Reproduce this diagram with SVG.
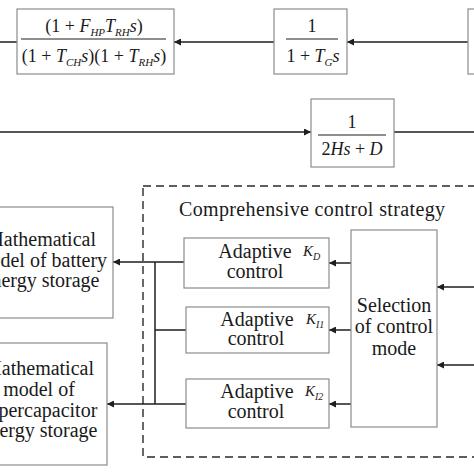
<svg xmlns="http://www.w3.org/2000/svg" width="474" height="474" viewBox="0 0 474 474">
<style>
.box{fill:#fff;stroke:#8c8c8c;stroke-width:1.2}
.ln{fill:none;stroke:#1e1e1e;stroke-width:1.5}
.dash{fill:none;stroke:#2a2a2a;stroke-width:1.4;stroke-dasharray:8 5}
text{font-family:'Liberation Serif','DejaVu Serif',serif;fill:#1a1a1a}
.t{font-size:20px;text-anchor:middle}
.m{font-size:18px;text-anchor:middle}
.i{font-style:italic}
.sub{font-style:italic;font-size:11px}
.k{font-size:15px;font-style:italic}
.fl{stroke:#1e1e1e;stroke-width:1.2}
</style>
<defs>
<marker id="ah" viewBox="0 0 10 10" refX="10" refY="5" markerWidth="7" markerHeight="7" markerUnits="userSpaceOnUse" orient="auto">
<path d="M0,0 L10,5 L0,10 z" fill="#1e1e1e"/>
</marker>
</defs>
<rect width="474" height="474" fill="#fff"/>

<g id="strategy-frame">
<rect class="dash" x="143" y="186" width="345" height="271"/>
<text class="t" x="179" y="216" style="text-anchor:start" textLength="266">Comprehensive control strategy</text>
</g>

<g id="connectors">
<line class="ln" x1="0" y1="42" x2="17" y2="42"/>
<line class="ln" x1="274" y1="42" x2="174" y2="42" marker-end="url(#ah)"/>
<line class="ln" x1="468" y1="42" x2="347" y2="42" marker-end="url(#ah)"/>
<line class="ln" x1="0" y1="132" x2="311" y2="132" marker-end="url(#ah)"/>
<line class="ln" x1="394" y1="132" x2="474" y2="132"/>
<line class="ln" x1="184" y1="262" x2="113" y2="262" marker-end="url(#ah)"/>
<line class="ln" x1="155" y1="262" x2="155" y2="404"/>
<line class="ln" x1="186" y1="330" x2="155" y2="330"/>
<line class="ln" x1="186" y1="404" x2="107" y2="404" marker-end="url(#ah)"/>
<line class="ln" x1="351" y1="263" x2="329" y2="263" marker-end="url(#ah)"/>
<line class="ln" x1="351" y1="330" x2="329" y2="330" marker-end="url(#ah)"/>
<line class="ln" x1="351" y1="404" x2="329" y2="404" marker-end="url(#ah)"/>
<line class="ln" x1="474" y1="287" x2="437" y2="287" marker-end="url(#ah)"/>
<line class="ln" x1="474" y1="365" x2="437" y2="365" marker-end="url(#ah)"/>
</g>

<g id="reheat-turbine">
<rect class="box" x="17" y="9" width="157" height="65"/>
<text class="m" x="94" y="32">(1 + <tspan class="i">F</tspan><tspan class="sub" dy="4">HP</tspan><tspan class="i" dy="-4">T</tspan><tspan class="sub" dy="4">RH</tspan><tspan class="i" dy="-4">s</tspan>)</text>
<line class="fl" x1="21" y1="39" x2="166" y2="39"/>
<text class="m" x="94" y="62">(1 + <tspan class="i">T</tspan><tspan class="sub" dy="4">CH</tspan><tspan class="i" dy="-4">s</tspan>)(1 + <tspan class="i">T</tspan><tspan class="sub" dy="4">RH</tspan><tspan class="i" dy="-4">s</tspan>)</text>
</g>

<g id="governor">
<rect class="box" x="274" y="9" width="73" height="65"/>
<text class="m" x="312" y="32">1</text>
<line class="fl" x1="286" y1="39" x2="338" y2="39"/>
<text class="m" x="313" y="62">1 + <tspan class="i">T</tspan><tspan class="sub" dy="4">G</tspan><tspan class="i" dy="-4">s</tspan></text>
</g>

<g id="right-block">
<rect class="box" x="468" y="9" width="20" height="65"/>
</g>

<g id="inertia">
<rect class="box" x="311" y="99" width="83" height="68"/>
<text class="m" x="352" y="128">1</text>
<line class="fl" x1="318" y1="135" x2="386" y2="135"/>
<text class="m" x="352" y="155">2<tspan class="i">Hs</tspan> + <tspan class="i">D</tspan></text>
</g>

<g id="battery-model">
<rect class="box" x="-20" y="207" width="133" height="111"/>
<text class="t" x="41" y="246">Mathematical</text>
<text class="t" x="41" y="267">model of battery</text>
<text class="t" x="41" y="287">energy storage</text>
</g>

<g id="supercap-model">
<rect class="box" x="-20" y="343" width="127" height="122"/>
<text class="t" x="39" y="375">Mathematical</text>
<text class="t" x="39" y="396">model of</text>
<text class="t" x="39" y="417">supercapacitor</text>
<text class="t" x="39" y="437">energy storage</text>
</g>

<g id="adaptive-kd">
<rect class="box" x="184" y="238" width="145" height="50"/>
<text class="t" x="255" y="258">Adaptive</text>
<text class="k" x="303" y="256">K<tspan font-size="10" dy="4">D</tspan></text>
<text class="t" x="255" y="278">control</text>
</g>

<g id="adaptive-ki1">
<rect class="box" x="186" y="307" width="143" height="46"/>
<text class="t" x="257" y="326">Adaptive</text>
<text class="k" x="306" y="324">K<tspan font-size="10" dy="4">I1</tspan></text>
<text class="t" x="256" y="345">control</text>
</g>

<g id="adaptive-ki2">
<rect class="box" x="186" y="379" width="143" height="49"/>
<text class="t" x="257" y="398">Adaptive</text>
<text class="k" x="305" y="396">K<tspan font-size="10" dy="4">I2</tspan></text>
<text class="t" x="256" y="418">control</text>
</g>

<g id="mode-selection">
<rect class="box" x="351" y="230" width="86" height="197"/>
<text class="t" x="394" y="312">Selection</text>
<text class="t" x="394" y="333">of control</text>
<text class="t" x="394" y="355">mode</text>
</g>
</svg>
